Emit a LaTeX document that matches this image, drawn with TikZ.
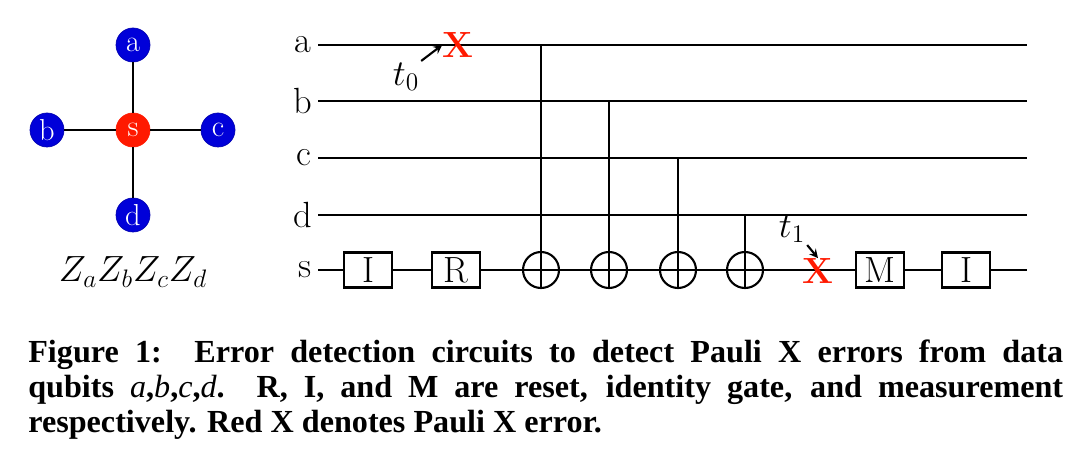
\documentclass[tikz,border=0pt]{standalone}
\usepackage{fontspec}
\newfontfamily\capfont{Liberation Serif}
\begin{document}
\begin{tikzpicture}[x=0.02cm,y=-0.02cm,
  wire/.style={line width=1.4pt},
  gbox/.style={draw,line width=1.2pt,fill=white,minimum width=0.95cm,minimum height=0.7cm,inner sep=0pt,font=\huge},
  qb/.style={circle,draw=blue!70!black,fill=blue!85!black,text=white,minimum size=0.68cm,inner sep=0pt,font=\LARGE},
  targ/.style={circle,draw,line width=1.2pt,fill=white,minimum size=0.72cm,inner sep=0pt},
  err/.style={text=red!80!orange,font=\huge\bfseries,inner sep=0pt},
  lab/.style={font=\huge,anchor=east,inner sep=0pt}]
\useasboundingbox (0,0) rectangle (1078,476);
% graph
\node[qb,fill=red!80!orange,draw=red!80!orange] (gs) at (133,130) {s};
\node[qb] (ga) at (133,45) {a};
\node[qb] (gb) at (47,130) {b};
\node[qb] (gc) at (218,130) {c};
\node[qb] (gd) at (133,215) {d};
\draw[line width=1.2pt] (ga)--(gs) (gb)--(gs) (gc)--(gs) (gd)--(gs);
\node[font=\huge] (zz) at (133,272) {$Z_aZ_bZ_cZ_d$};
% wires
\foreach \n/\y in {a/45,b/101,c/158,d/215,s/270}{
  \node[lab] (l\n) at (312,\y) {\n};
  \coordinate (w\n) at (318,\y);
  \coordinate (e\n) at (1027,\y);
  \draw[wire] (w\n) -- (e\n);
}
% controls
\foreach \x/\n/\y in {541/a/45,609/b/101,678/c/158,745/d/215}{
  \coordinate (c\n) at (\x,\y);
  \node[targ] (t\n) at (\x,270) {};
  \draw[wire] (c\n) -- (t\n.south);
  \draw[wire] (t\n.west) -- (t\n.east);
}
\node[gbox] (g1) at (368,270) {I};
\node[gbox] (g2) at (456,270) {R};
\node[gbox] (g3) at (880,270) {M};
\node[gbox] (g4) at (966,270) {I};
\node[err] (x0) at (458,45) {X};
\node[err] (x1) at (818,271) {X};
\node[font=\huge,inner sep=1pt] (t0) at (406,77) {$t_0$};
\node[font=\huge,inner sep=1pt] (t1) at (792,229) {$t_1$};
\draw[-stealth,line width=1.2pt] (t0.north east) -- (x0.west);
\draw[-stealth,line width=1.2pt] (t1.south east) -- (x1.north);
% caption
\node[anchor=north west,inner sep=0pt,text width=20.7cm,align=justify,font=\capfont\bfseries\fontsize{18.3}{19.8}\selectfont] (cap) at (28,340)
{Figure 1:\ \ Error detection circuits to detect Pauli X errors from data\linebreak qubits \textit{\mdseries a},\textit{\mdseries b},\textit{\mdseries c},\textit{\mdseries d}.\ \ R, I, and M are reset, identity gate, and measurement\linebreak respectively. Red X denotes Pauli X error.};
\end{tikzpicture}
\end{document}
